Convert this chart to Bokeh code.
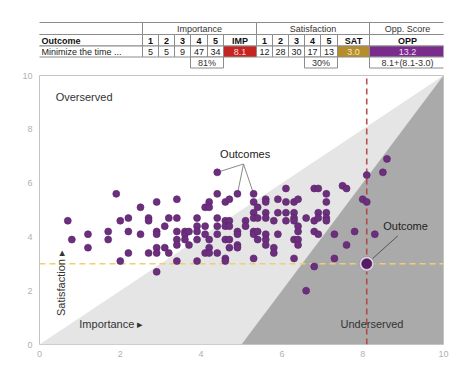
from math import pi
from bokeh.plotting import figure
from bokeh.layouts import column
from bokeh.models import Range1d, FixedTicker
from bokeh.core.properties import value
from bokeh.embed import file_html
from bokeh.resources import INLINE

# ---------------- data ----------------
imp_x = [0.7, 0.8, 1.2, 1.2, 1.7, 1.7, 1.9, 2.0, 2.0, 2.2, 2.2, 2.2, 2.5, 2.5,
         2.7, 2.7, 2.7, 2.9, 2.9, 2.9, 2.9, 2.9, 2.9, 3.1, 3.1, 3.2, 3.2,
         3.4, 3.4, 3.4, 3.4, 3.4, 3.4, 3.6, 3.6, 3.6, 3.7, 3.7,
         3.9, 3.9, 3.9, 3.9, 3.9, 4.1, 4.1, 4.1, 4.1, 4.2, 4.2, 4.2, 4.2, 4.2,
         4.4, 4.4, 4.4, 4.4, 4.4, 4.4, 4.6, 4.6, 4.6, 4.6, 4.6, 4.6,
         4.7, 4.7, 4.7, 4.7, 4.7, 4.9, 4.9, 4.9, 4.9, 4.9, 5.1, 5.1,
         5.3, 5.3, 5.3, 5.3, 5.3, 5.3, 5.3, 5.4, 5.4, 5.4, 5.4,
         5.6, 5.6, 5.6, 5.6, 5.6, 5.6, 5.6, 5.8, 5.8, 5.8, 5.9, 5.9, 5.9,
         6.1, 6.1, 6.1, 6.1, 6.3, 6.3, 6.3, 6.3, 6.3, 6.3,
         6.4, 6.4, 6.4, 6.4, 6.4, 6.6, 6.6, 6.8, 6.8, 6.8, 6.8,
         6.9, 6.9, 6.9, 6.9, 7.1, 7.1, 7.1, 7.1, 7.1, 7.3, 7.3, 7.5, 7.6, 7.6,
         7.8, 8.0, 8.1, 8.1, 8.3, 8.5, 8.6]
sat_y = [4.6, 3.9, 4.1, 3.6, 4.2, 3.9, 5.6, 4.6, 3.1, 4.7, 4.2, 3.4, 5.1, 4.1,
         4.7, 4.6, 3.4, 5.3, 4.2, 4.1, 3.6, 3.4, 2.7, 4.4, 3.6, 4.7, 3.4,
         5.4, 4.7, 4.2, 3.9, 3.7, 3.1, 4.2, 4.1, 3.9, 4.2, 3.7,
         4.7, 4.4, 4.2, 3.9, 3.1, 5.1, 4.4, 4.1, 3.4, 5.3, 5.1, 3.9, 3.6, 3.4,
         6.4, 5.6, 4.7, 4.4, 4.1, 3.4, 5.3, 4.6, 4.4, 3.9, 3.2, 3.1,
         5.4, 4.6, 4.4, 3.9, 3.6, 5.6, 4.2, 4.1, 3.7, 3.6, 4.6, 4.4,
         5.6, 5.3, 4.9, 4.7, 4.2, 4.1, 3.2, 5.1, 4.7, 4.2, 3.9,
         5.4, 5.3, 4.9, 4.7, 4.1, 3.9, 3.7, 4.6, 3.6, 3.4, 5.4, 4.9, 4.1,
         5.8, 5.3, 4.9, 4.6, 5.3, 4.9, 4.7, 4.6, 3.9, 3.2,
         5.4, 4.4, 4.2, 3.9, 3.7, 4.7, 2.0, 5.8, 4.6, 4.2, 2.9,
         5.8, 4.9, 4.7, 4.1, 5.6, 5.3, 4.9, 4.7, 4.6, 4.1, 3.2, 5.9, 5.8, 3.7,
         4.2, 5.4, 6.3, 5.3, 4.1, 6.4, 6.9]

# outcomes singled out by the "Outcomes" call-out
callout_x = [4.4, 4.9, 5.3]
callout_y = [6.4, 5.6, 5.6]

outcome_name = "Minimize the time ..."
rating_labels = ["1", "2", "3", "4", "5"]
imp_counts = [5, 5, 9, 47, 34]
sat_counts = [12, 28, 30, 17, 13]
imp_score = 8.1
sat_score = 3.0
opp_score = 13.2
imp_top2 = "81%"
sat_top2 = "30%"
axis_ticks = [0, 2, 4, 6, 8, 10]
axis_max = 10
underserved_start = 5

FONT = value("Liberation Sans")
GRID = "#8c8c8c"

# ---------------- table ----------------
# the column layout aligns this frame with the chart frame (page x 39..443)
t = figure(width=474, height=70, x_range=Range1d(39, 443), y_range=Range1d(70, 0),
           toolbar_location=None, output_backend="svg",
           x_axis_location=None, y_axis_location=None, min_border=0,
           min_border_left=39, min_border_right=31,
           outline_line_color=None)
t.grid.visible = False

rows = [22, 34, 45.5, 56.5, 67.5]
out_l, out_r = 36, 142
imp_edges = [142, 158, 174, 190, 207, 223]
imp_col = (223, 256)
sat_edges = [256, 272, 288, 304, 320, 337]
sat_col = (337, 369)
opp_col = (369, 445)

L, R, T, B, F = [], [], [], [], []
tx, ty, tt, tw, tc, ta = [], [], [], [], [], []


def cell(l, r, top, bot, fill=None, text=None, bold=False, color="#111111", align="center"):
    L.append(l); R.append(r); T.append(top); B.append(bot)
    F.append(fill if fill else "#ffffff")
    if text is not None:
        tx.append((l + r) / 2 if align == "center" else l + 5)
        ty.append((top + bot) / 2 + 0.5)
        tt.append(text)
        tw.append("bold" if bold else "normal")
        tc.append(color)
        ta.append(align)


# row 0: group headers
cell(out_l, out_r, rows[0], rows[1])
cell(imp_edges[0], imp_col[1], rows[0], rows[1], text="Importance", color="#333333")
cell(sat_edges[0], sat_col[1], rows[0], rows[1], text="Satisfaction", color="#333333")
cell(opp_col[0], opp_col[1], rows[0], rows[1], text="Opp. Score", color="#333333")
# row 1: column headers
cell(out_l, out_r, rows[1], rows[2], text="Outcome", bold=True, align="left")
for i, lab in enumerate(rating_labels):
    cell(imp_edges[i], imp_edges[i + 1], rows[1], rows[2], text=lab, bold=True)
cell(imp_col[0], imp_col[1], rows[1], rows[2], text="IMP", bold=True)
for i, lab in enumerate(rating_labels):
    cell(sat_edges[i], sat_edges[i + 1], rows[1], rows[2], text=lab, bold=True)
cell(sat_col[0], sat_col[1], rows[1], rows[2], text="SAT", bold=True)
cell(opp_col[0], opp_col[1], rows[1], rows[2], text="OPP", bold=True)
# row 2: values
cell(out_l, out_r, rows[2], rows[3], text=outcome_name, align="left", color="#222222")
for i, v in enumerate(imp_counts):
    cell(imp_edges[i], imp_edges[i + 1], rows[2], rows[3], text=str(v), color="#222222")
cell(imp_col[0], imp_col[1], rows[2], rows[3], fill="#c62420", text=f"{imp_score:.1f}", color="#f6dede")
for i, v in enumerate(sat_counts):
    cell(sat_edges[i], sat_edges[i + 1], rows[2], rows[3], text=str(v), color="#222222")
cell(sat_col[0], sat_col[1], rows[2], rows[3], fill="#b68d2c", text=f"{sat_score:.1f}", color="#f3e6c2")
cell(opp_col[0], opp_col[1], rows[2], rows[3], fill="#7a2c8c", text=f"{opp_score:.1f}", color="#f3def5")
# row 3: top-2 box and formula
cell(imp_edges[3], imp_edges[5], rows[3], rows[4], text=imp_top2, color="#333333")
cell(sat_edges[3], sat_edges[5], rows[3], rows[4], text=sat_top2, color="#333333")
cell(opp_col[0], opp_col[1], rows[3], rows[4],
     text=f"{imp_score:.1f}+({imp_score:.1f}-{sat_score:.1f})", color="#333333")

t.quad(left=L, right=R, top=T, bottom=B, fill_color=F, line_color=GRID, line_width=1)
t.text(x=tx, y=ty, text=tt, text_font=FONT, text_font_size="9px",
       text_font_style=tw, text_color=tc, text_align=ta, text_baseline="middle")

# ---------------- plot ----------------
p = figure(width=474, height=307, x_range=Range1d(0, axis_max), y_range=Range1d(0, axis_max),
           toolbar_location=None, output_backend="svg",
           min_border_left=39, min_border_right=31, min_border_top=5, min_border_bottom=33)
p.grid.visible = False
p.outline_line_color = "#c4c4c4"
p.background_fill_color = "#ffffff"
p.xaxis.ticker = FixedTicker(ticks=axis_ticks)
p.yaxis.ticker = FixedTicker(ticks=axis_ticks)
p.axis.axis_line_color = None
p.axis.major_tick_line_color = None
p.axis.minor_tick_line_color = None
p.axis.major_tick_out = 0
p.axis.major_tick_in = 0
p.axis.major_label_text_color = "#b0b0b0"
p.axis.major_label_text_font_size = "9px"
p.axis.major_label_text_font = "Liberation Sans"
p.xaxis.major_label_standoff = 6
p.yaxis.major_label_standoff = 7

# regions
p.patch([0, axis_max, axis_max], [0, axis_max, 0], fill_color="#e5e5e5", line_color=None)
p.patch([underserved_start, axis_max, axis_max], [0, axis_max, 0], fill_color="#aaaaaa", line_color=None)

# reference lines
p.segment(x0=[imp_score], y0=[0], x1=[imp_score], y1=[axis_max],
          line_color="#b2403c", line_dash="6 4", line_width=1.6, line_alpha=0.9)
p.segment(x0=[0], y0=[sat_score], x1=[axis_max], y1=[sat_score],
          line_color="#f0cf72", line_dash="6 4", line_width=1.6)

# call-out leaders
fork_x, fork_y = 5.05, 6.71
p.segment(x0=[fork_x] * len(callout_x), y0=[fork_y] * len(callout_y), x1=callout_x, y1=callout_y,
          line_color="#8a8a8a", line_width=1)
p.segment(x0=[8.87], y0=[4.04], x1=[imp_score], y1=[sat_score], line_color="#555555", line_width=1)

# outcomes
p.scatter(imp_x, sat_y, size=7, fill_color="#6c2f7e", line_color="#5b2469", line_width=0.6)

# focus outcome
p.scatter([imp_score], [sat_score], size=15, fill_color="#dcd4dc", line_color="#9a8f9a", line_width=0.8)
p.scatter([imp_score], [sat_score], size=10, fill_color="#561a69", line_color="#3f0f4f", line_width=0.6)

# labels
p.text(x=[0.4], y=[9.19], text=["Overserved"], text_font=FONT, text_font_size="11px",
       text_color="#333333", text_align="left", text_baseline="middle")
p.text(x=[8.23], y=[0.77], text=["Underserved"], text_font=FONT, text_font_size="11px",
       text_color="#333333", text_align="center", text_baseline="middle")
p.text(x=[0.985], y=[0.77], text=["Importance \u25b8"], text_font=FONT, text_font_size="11px",
       text_color="#333333", text_align="left", text_baseline="middle")
p.text(x=[0.52], y=[1.06], text=["Satisfaction \u25b8"], angle=pi / 2, text_font=FONT,
       text_font_size="11px", text_color="#333333", text_align="left", text_baseline="middle")
p.text(x=[5.09], y=[7.1], text=["Outcomes"], text_font=FONT, text_font_size="11px",
       text_color="#222222", text_align="center", text_baseline="middle")
p.text(x=[9.06], y=[4.39], text=["Outcome"], text_font=FONT, text_font_size="11px",
       text_color="#222222", text_align="center", text_baseline="middle")

layout = column(t, p, spacing=0)
open("out.html", "w").write(file_html(layout, INLINE))
